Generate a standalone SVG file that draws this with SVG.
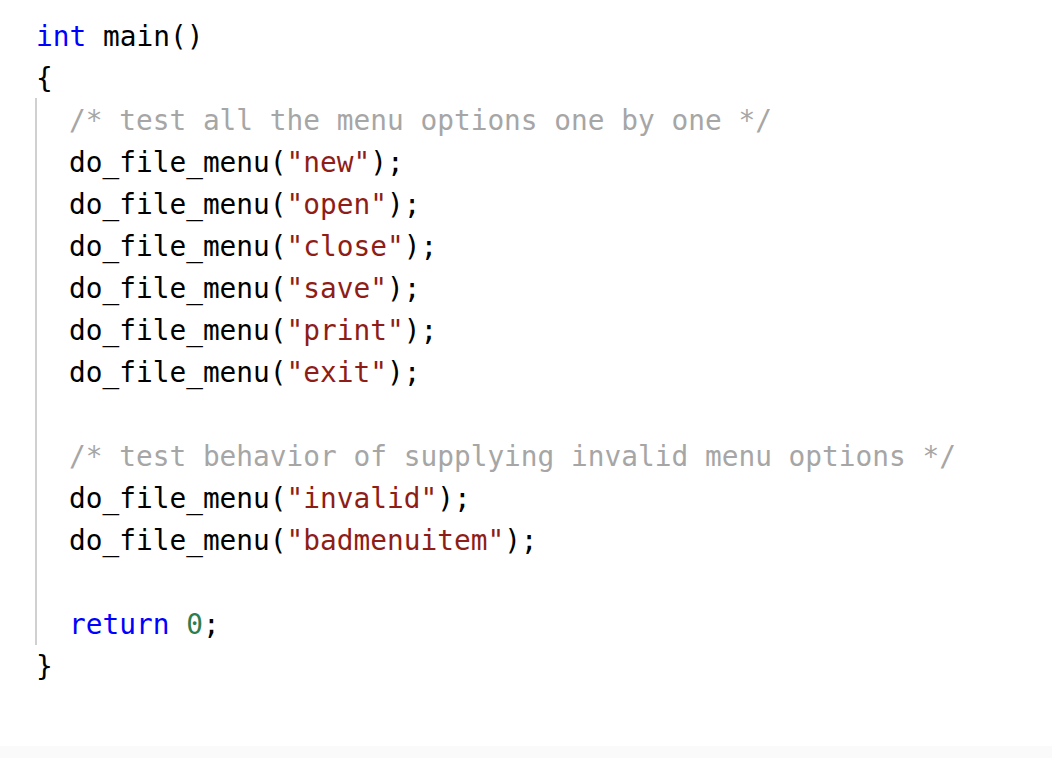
<svg xmlns="http://www.w3.org/2000/svg" width="1052" height="758" viewBox="0 0 1052 758">
<style>
text{font-family:"DejaVu Sans Mono","Liberation Mono",monospace;font-size:27.8px;fill:#000;white-space:pre}
.k{fill:#0000ff}.s{fill:#8f1d17}.c{fill:#a6a6a6}.n{fill:#2f7d4e}
</style>
<rect width="1052" height="758" fill="#fff"/>
<rect y="746" width="1052" height="12" fill="#fafafa"/>
<line x1="36" y1="98" x2="36" y2="645" stroke="#d0d0d0" stroke-width="2"/>
<g id="code">
<text x="36" y="46"><tspan class="k">int</tspan> main()</text>
<text x="36" y="88">{</text>
<text x="69" y="130" class="c">/* test all the menu options one by one */</text>
<text x="69" y="172">do_file_menu(<tspan class="s">"new"</tspan>);</text>
<text x="69" y="214">do_file_menu(<tspan class="s">"open"</tspan>);</text>
<text x="69" y="256">do_file_menu(<tspan class="s">"close"</tspan>);</text>
<text x="69" y="298">do_file_menu(<tspan class="s">"save"</tspan>);</text>
<text x="69" y="340">do_file_menu(<tspan class="s">"print"</tspan>);</text>
<text x="69" y="382">do_file_menu(<tspan class="s">"exit"</tspan>);</text>
<text x="69" y="466" class="c">/* test behavior of supplying invalid menu options */</text>
<text x="69" y="508">do_file_menu(<tspan class="s">"invalid"</tspan>);</text>
<text x="69" y="550">do_file_menu(<tspan class="s">"badmenuitem"</tspan>);</text>
<text x="69" y="634"><tspan class="k">return</tspan> <tspan class="n">0</tspan>;</text>
<text x="36" y="676">}</text>
</g>
</svg>
